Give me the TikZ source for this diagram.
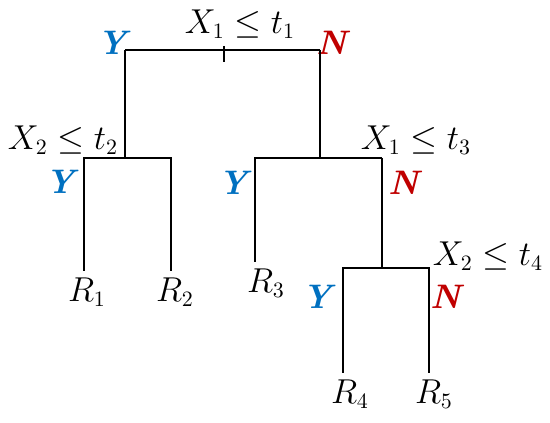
\documentclass[tikz,border=0pt]{standalone}
\usetikzlibrary{positioning}
\definecolor{yescolor}{RGB}{0,112,192}
\definecolor{nocolor}{RGB}{192,0,0}
\tikzset{
  branch/.style = {draw=black, line width=0.8pt},
  cond/.style   = {font=\fontsize{16}{19}\selectfont, inner sep=1pt},
  leaf/.style   = {font=\fontsize{16}{19}\selectfont},
  yes/.style    = {text=yescolor, font=\fontsize{17}{20}\selectfont\bfseries\itshape, inner sep=1pt},
  no/.style     = {text=nocolor, font=\fontsize{17}{20}\selectfont\bfseries\itshape, inner sep=1pt},
}

\begin{document}
\begin{tikzpicture}[x=0.5pt, y=-0.5pt]
  \useasboundingbox (0,0) rectangle (550,422);

  % split points
  \coordinate (s1)  at (224,50);
  \coordinate (s1y) at (125,50);
  \coordinate (s1n) at (320,50);
  \coordinate (s2y) at (84,158);
  \coordinate (s2n) at (171,158);
  \coordinate (s3y) at (255,158);
  \coordinate (s3n) at (382,158);
  \coordinate (s4y) at (343,268);
  \coordinate (s4n) at (429,268);

  % conditions
  \node[cond] (c1) at (240,24)  {$X_1 \leq t_1$};
  \node[cond] (c2) at (63,140)  {$X_2 \leq t_2$};
  \node[cond] (c3) at (416,140) {$X_1 \leq t_3$};
  \node[cond] (c4) at (488,256) {$X_2 \leq t_4$};

  % leaves
  \node[leaf] (r1) at (87,292)  {$R_1$};
  \node[leaf] (r2) at (175,292) {$R_2$};
  \node[leaf] (r3) at (266,283) {$R_3$};
  \node[leaf] (r4) at (350,394) {$R_4$};
  \node[leaf] (r5) at (434,394) {$R_5$};

  % answers
  \node[yes] (y1) at (112,43)  {Y};
  \node[no]  (n1) at (332,43)  {N};
  \node[yes] (y2) at (60,182)  {Y};
  \node[yes] (y3) at (233,183) {Y};
  \node[no]  (n3) at (404,183) {N};
  \node[yes] (y4) at (317,297) {Y};
  \node[no]  (n4) at (446,297) {N};

  % branches
  \draw[branch] (s1y) -- (s1n);
  \draw[branch] ([yshift=2pt]s1) -- ([yshift=-6pt]s1);
  \draw[branch] (s1y) -- (s1y |- s2y);
  \draw[branch] (s1n) -- (s1n |- s3y);
  \draw[branch] (s3n) -- (s3n |- s4y);
  \draw[branch] (s2y |- r1.north) -- (s2y) -- (s2n) -- (s2n |- r2.north);
  \draw[branch] (s3y |- r3.north) -- (s3y) -- (s3n);
  \draw[branch] (s4y |- r4.north) -- (s4y) -- (s4n) -- (s4n |- r5.north);
\end{tikzpicture}
\end{document}
